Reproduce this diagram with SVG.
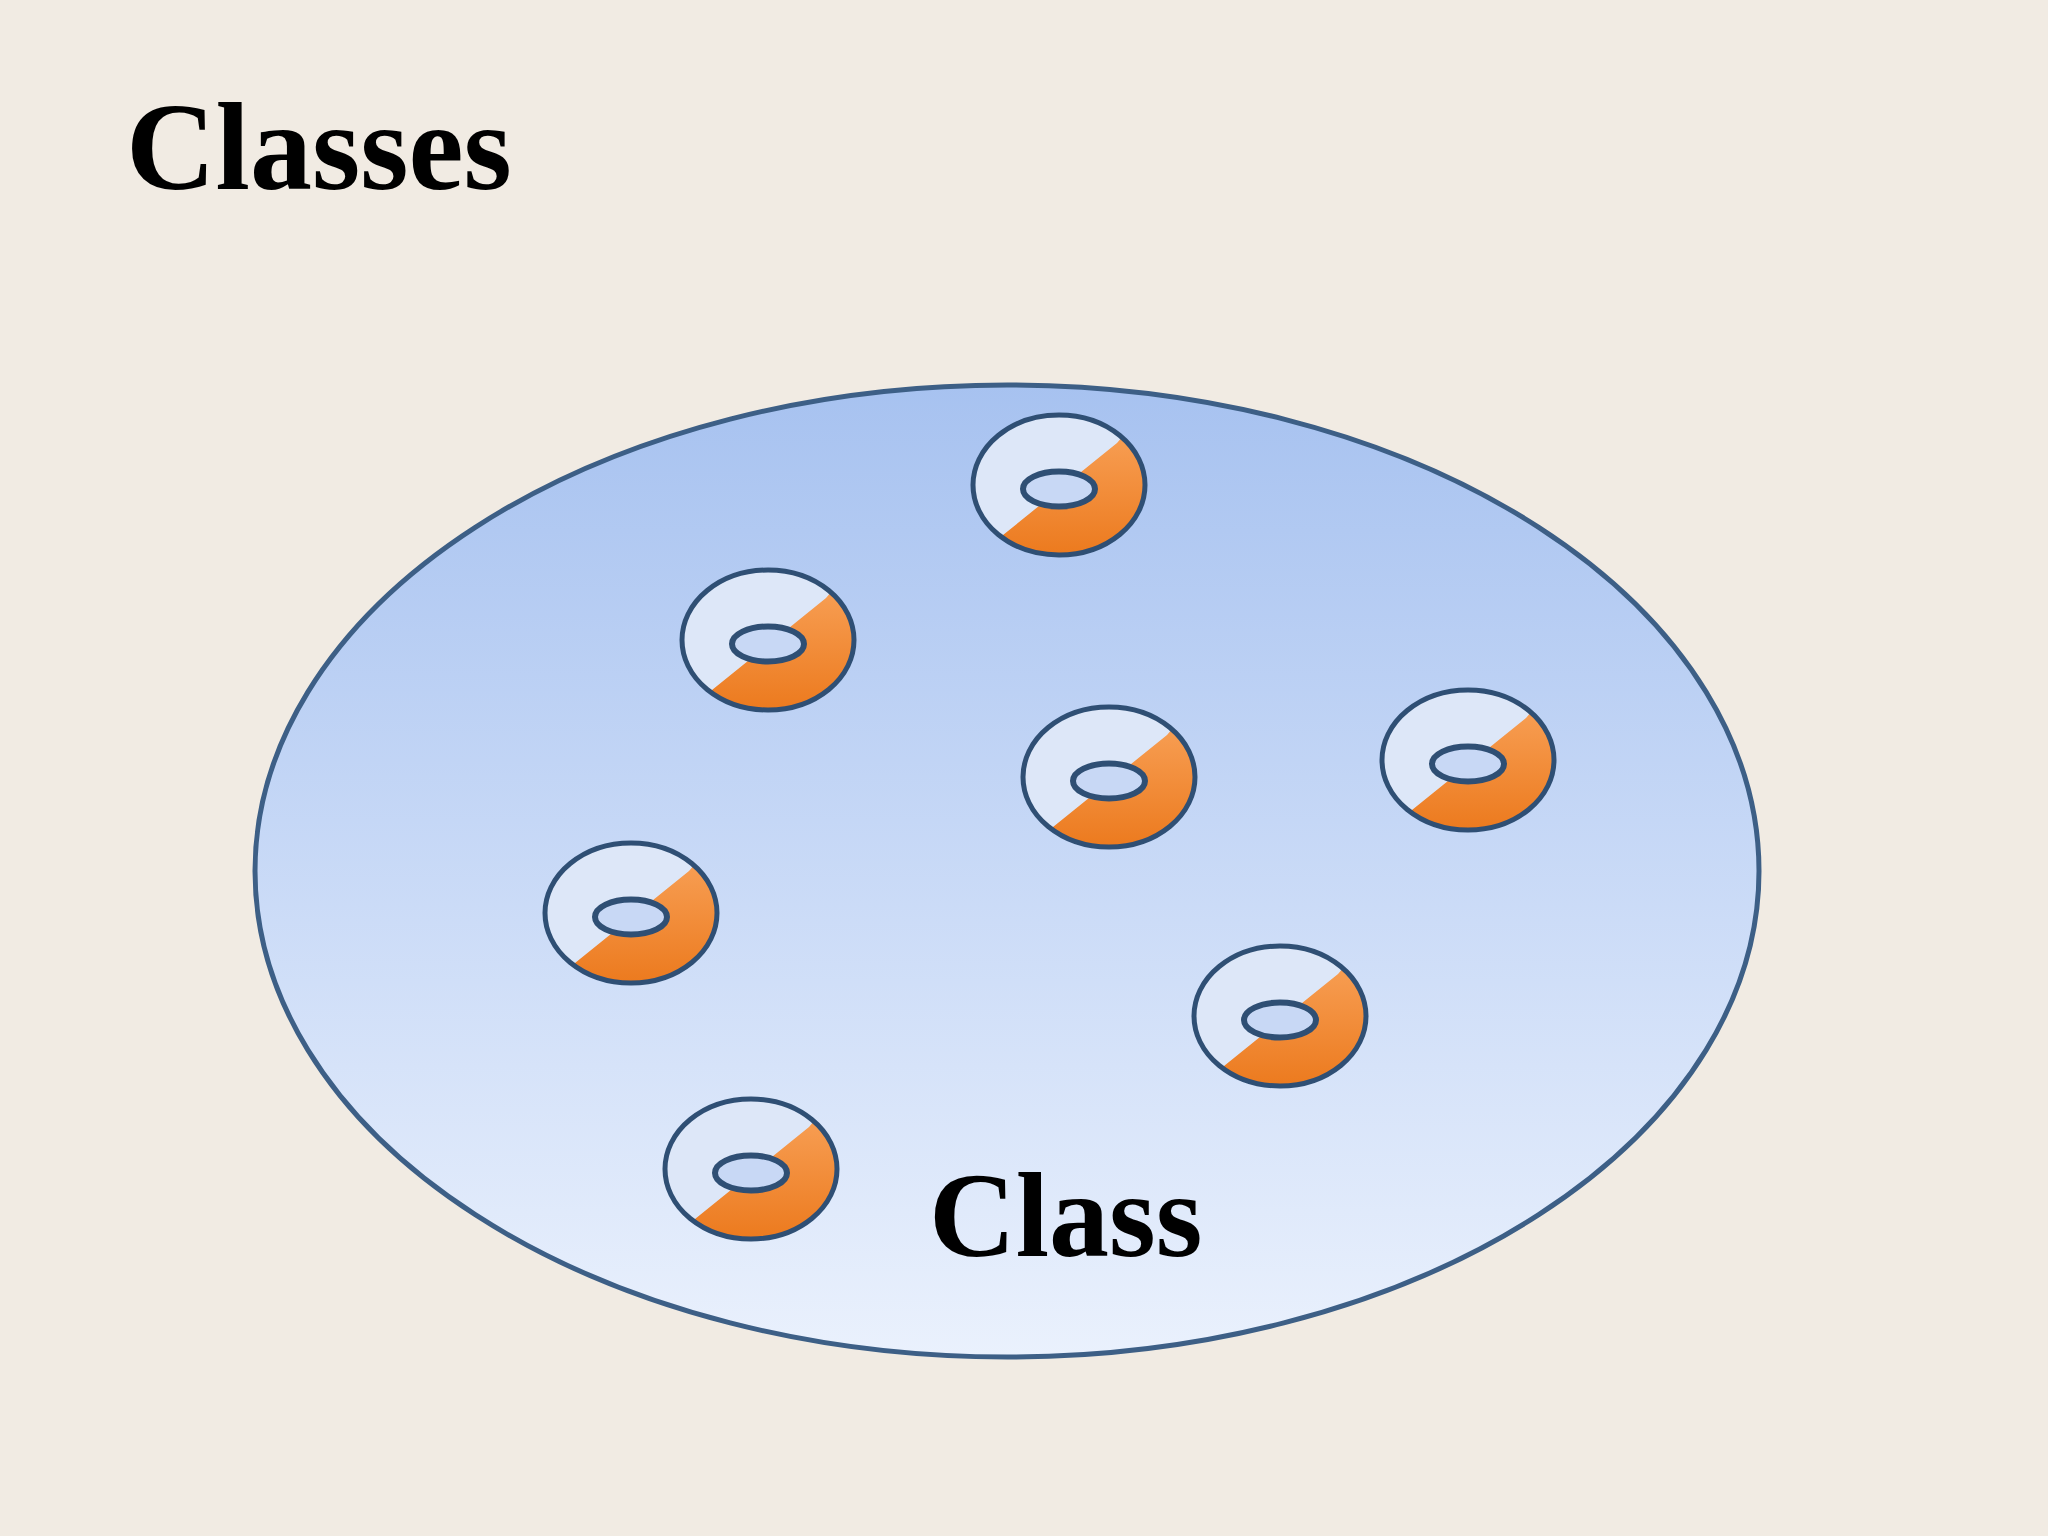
<svg xmlns="http://www.w3.org/2000/svg" width="2048" height="1536" viewBox="0 0 2048 1536">
<style>
.t{font-family:"Liberation Serif",serif;font-weight:bold;fill:#000}
</style>
<defs>
<linearGradient id="bg" x1="0" y1="0" x2="0" y2="1">
<stop offset="0" stop-color="#a7c2f0"/><stop offset="1" stop-color="#eaf1fd"/>
</linearGradient>
<linearGradient id="og" x1="0" y1="0" x2="0" y2="1">
<stop offset="0" stop-color="#f9a45c"/><stop offset="1" stop-color="#ec7a1e"/>
</linearGradient>
<clipPath id="oc"><polygon points="58,-42 150,-150 150,150 -150,150 -56,50"/></clipPath>
<g id="donut">
<path d="M-86,0a86,70 0 1 0 172,0a86,70 0 1 0 -172,0Z M-36,4a36,17.5 0 1 1 72,0a36,17.5 0 1 1 -72,0Z" fill="#dde7f8" fill-rule="evenodd"/>
<path d="M-86,0a86,70 0 1 0 172,0a86,70 0 1 0 -172,0Z M-36,4a36,17.5 0 1 1 72,0a36,17.5 0 1 1 -72,0Z" fill="url(#og)" fill-rule="evenodd" clip-path="url(#oc)"/>
<ellipse cx="0" cy="0" rx="86" ry="70" fill="none" stroke="#2f4f74" stroke-width="5"/>
<ellipse cx="0" cy="4" rx="36" ry="17.5" fill="#c8d8f5" stroke="#2f4f74" stroke-width="6"/>
</g>
</defs>
<rect width="2048" height="1536" fill="#f1ebe3"/>
<text class="t" x="126" y="189" font-size="124">Classes</text>
<g id="set">
<ellipse cx="1007" cy="871" rx="752" ry="486" fill="url(#bg)" stroke="#3d5f86" stroke-width="5"/>
</g>
<g id="objects">
<use href="#donut" x="1059" y="485"/>
<use href="#donut" x="768" y="640"/>
<use href="#donut" x="1109" y="777"/>
<use href="#donut" x="1468" y="760"/>
<use href="#donut" x="631" y="913"/>
<use href="#donut" x="1280" y="1016"/>
<use href="#donut" x="751" y="1169"/>
</g>
<text class="t" x="929" y="1256" font-size="120">Class</text>
</svg>
